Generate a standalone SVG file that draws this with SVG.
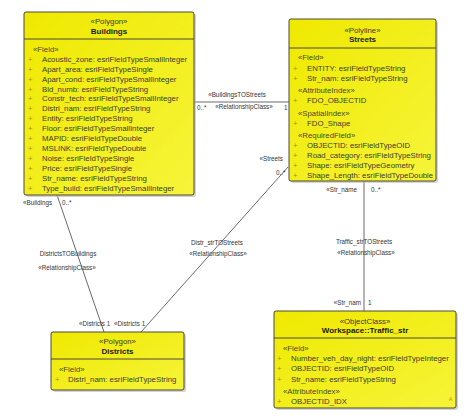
<svg xmlns="http://www.w3.org/2000/svg" width="474" height="416" viewBox="0 0 474 416">
<defs>
<linearGradient id="yg" x1="0" y1="0" x2="1" y2="1">
<stop offset="0" stop-color="#efe900"/>
<stop offset="1" stop-color="#f6f43a"/>
</linearGradient>
<style>
.box{fill:url(#yg);stroke:#4a4a3a;stroke-width:1}
.shadow{fill:#b8b8b0;opacity:0.6}
.sep{stroke:#4a4a3a;stroke-width:1}
text{font-family:"Liberation Sans",Arial,sans-serif}
.st{font-size:7.8px;fill:#3a3a2a;text-anchor:middle}
.nm{font-size:8px;font-weight:bold;fill:#1a1a10;text-anchor:middle}
.grp{font-size:7.8px;fill:#4a4a20}
.row{font-size:7.8px;fill:#3c3c2c}
.pl{font-size:7.8px;fill:#b08a10}
.lbl{font-size:6.3px;fill:#333}
.mid{text-anchor:middle}
.end{text-anchor:end}
.conn line{stroke:#444;stroke-width:0.8}
</style>
</defs>
<rect width="474" height="416" fill="#ffffff"/>

<g id="connectors" class="conn">
<line x1="194" y1="102" x2="289" y2="102"/>
<line x1="141" y1="332" x2="288" y2="167"/>
<line x1="57" y1="195" x2="104" y2="332"/>
<line x1="364" y1="181" x2="364" y2="311"/>
<text class="lbl mid" x="237" y="97">«BuildingsTOStreets</text>
<text class="lbl mid" x="244" y="109">«RelationshipClass»</text>
<text class="lbl" x="197" y="110">0..*</text>
<text class="lbl" x="284" y="110">1</text>
<text class="lbl end" x="283" y="161">«Streets</text>
<text class="lbl" x="276" y="175">0..*</text>
<text class="lbl mid" x="217" y="245">Distr_strTOStreets</text>
<text class="lbl mid" x="218" y="256">«RelationshipClass»</text>
<text class="lbl" x="79" y="326">«Districts 1</text>
<text class="lbl" x="114" y="326">«Districts 1</text>
<text class="lbl" x="23" y="205">«Buildings</text>
<text class="lbl" x="62" y="205">0..*</text>
<text class="lbl mid" x="68" y="256">DistrictsTOBuildings</text>
<text class="lbl mid" x="67" y="270">«RelationshipClass»</text>
<text class="lbl end" x="357" y="192">«Str_name</text>
<text class="lbl" x="371" y="192">0..*</text>
<text class="lbl mid" x="364" y="244">Traffic_strTOStreets</text>
<text class="lbl mid" x="366" y="255">«RelationshipClass»</text>
<text class="lbl end" x="361" y="305">«Str_nam</text>
<text class="lbl" x="368" y="305">1</text>
</g>

<g id="Buildings">
<rect class="shadow" x="26" y="14" width="170" height="183" rx="2"/>
<rect class="box" x="24" y="12" width="170" height="183" rx="2"/>
<line class="sep" x1="24" y1="39" x2="194" y2="39"/>
<text class="st" x="109" y="24">«Polygon»</text>
<text class="nm" x="109" y="34">Buildings</text>
<text class="grp" x="33" y="52">«Field»</text>
<g class="pl">
<text x="28" y="62">+</text><text x="28" y="72">+</text><text x="28" y="82">+</text><text x="28" y="92">+</text><text x="28" y="101">+</text><text x="28" y="111">+</text><text x="28" y="121">+</text><text x="28" y="131">+</text><text x="28" y="141">+</text><text x="28" y="151">+</text><text x="28" y="161">+</text><text x="28" y="171">+</text><text x="28" y="181">+</text><text x="28" y="191">+</text>
</g>
<g class="row">
<text x="42" y="62">Acoustic_zone: esriFieldTypeSmallInteger</text>
<text x="42" y="72">Apart_area: esriFieldTypeSingle</text>
<text x="42" y="82">Apart_cond: esriFieldTypeSmallInteger</text>
<text x="42" y="92">Bld_numb: esriFieldTypeString</text>
<text x="42" y="101">Constr_tech: esriFieldTypeSmallInteger</text>
<text x="42" y="111">Distri_nam: esriFieldTypeString</text>
<text x="42" y="121">Entity: esriFieldTypeString</text>
<text x="42" y="131">Floor: esriFieldTypeSmallInteger</text>
<text x="42" y="141">MAPID: esriFieldTypeDouble</text>
<text x="42" y="151">MSLINK: esriFieldTypeDouble</text>
<text x="42" y="161">Noise: esriFieldTypeSingle</text>
<text x="42" y="171">Price: esriFieldTypeSingle</text>
<text x="42" y="181">Str_name: esriFieldTypeString</text>
<text x="42" y="191">Type_build: esriFieldTypeSmallInteger</text>
</g>
</g>

<g id="Streets">
<rect class="shadow" x="291" y="21" width="147" height="162" rx="2"/>
<rect class="box" x="289" y="19" width="147" height="162" rx="2"/>
<line class="sep" x1="289" y1="48" x2="436" y2="48"/>
<text class="st" x="362.5" y="33">«Polyline»</text>
<text class="nm" x="362.5" y="42">Streets</text>
<text class="grp" x="298" y="60">«Field»</text>
<text class="grp" x="298" y="93">«AttributeIndex»</text>
<text class="grp" x="298" y="116">«SpatialIndex»</text>
<text class="grp" x="298" y="138">«RequiredField»</text>
<g class="pl">
<text x="293" y="71">+</text><text x="293" y="81">+</text><text x="293" y="103">+</text><text x="293" y="126">+</text><text x="293" y="148">+</text><text x="293" y="158">+</text><text x="293" y="168">+</text><text x="293" y="178">+</text>
</g>
<g class="row">
<text x="307" y="71">ENTITY: esriFieldTypeString</text>
<text x="307" y="81">Str_nam: esriFieldTypeString</text>
<text x="307" y="103">FDO_OBJECTID</text>
<text x="307" y="126">FDO_Shape</text>
<text x="307" y="148">OBJECTID: esriFieldTypeOID</text>
<text x="307" y="158">Road_category: esriFieldTypeString</text>
<text x="307" y="168">Shape: esriFieldTypeGeometry</text>
<text x="307" y="178">Shape_Length: esriFieldTypeDouble</text>
</g>
</g>

<g id="Districts">
<rect class="shadow" x="53" y="334" width="133" height="58" rx="2"/>
<rect class="box" x="51" y="332" width="133" height="58" rx="2"/>
<line class="sep" x1="51" y1="359" x2="184" y2="359"/>
<text class="st" x="117.5" y="344">«Polygon»</text>
<text class="nm" x="117.5" y="354">Districts</text>
<text class="grp" x="59" y="372">«Field»</text>
<text class="pl" x="55" y="382">+</text>
<text class="row" x="68" y="382">Distri_nam: esriFieldTypeString</text>
</g>

<g id="Traffic_str">
<rect class="shadow" x="276" y="313" width="182" height="97" rx="2"/>
<rect class="box" x="274" y="311" width="182" height="97" rx="2"/>
<line class="sep" x1="274" y1="338" x2="456" y2="338"/>
<text class="st" x="365" y="324">«ObjectClass»</text>
<text class="nm" x="365" y="333">Workspace::Traffic_str</text>
<text class="grp" x="283" y="351">«Field»</text>
<text class="grp" x="283" y="394">«AttributeIndex»</text>
<g class="pl">
<text x="277" y="361">+</text><text x="277" y="371">+</text><text x="277" y="382">+</text><text x="277" y="404">+</text>
</g>
<g class="row">
<text x="291" y="361">Number_veh_day_night: esriFieldTypeInteger</text>
<text x="291" y="371">OBJECTID: esriFieldTypeOID</text>
<text x="291" y="382">Str_name: esriFieldTypeString</text>
<text x="291" y="404">OBJECTID_IDX</text>
</g>
<text x="449" y="401" style="font-size:5px;fill:#d08a00">A</text>
</g>
</svg>
